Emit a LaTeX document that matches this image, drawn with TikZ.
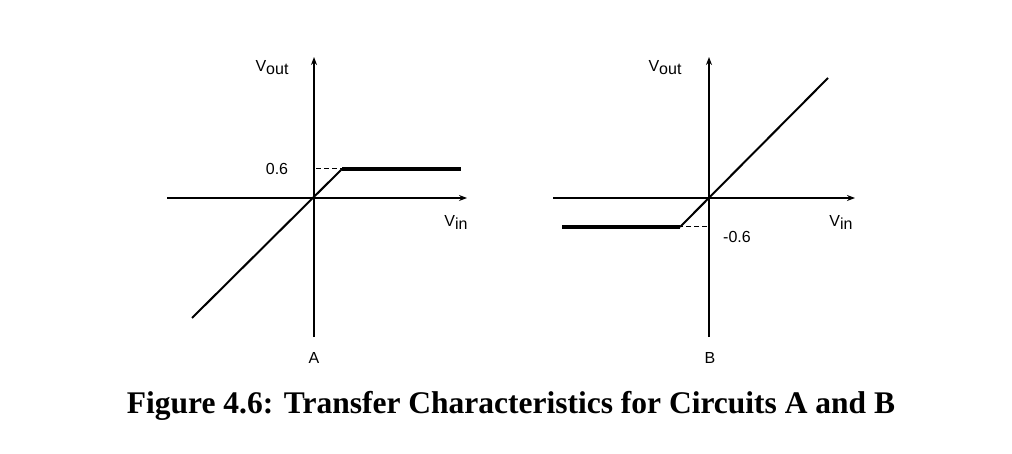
\documentclass[tikz,border=0pt]{standalone}
\usepackage{fontspec}
\setmainfont{Liberation Serif}
\newfontfamily\lblfont{Liberation Sans}
\usetikzlibrary{arrows.meta}
\begin{document}
\begin{tikzpicture}[x=1pt,y=-1pt,
  axis/.style={line width=1.3pt,-{Stealth[length=8pt,width=6pt]}},
  curve/.style={line width=2pt},
  flat/.style={line width=3.6pt},
  guide/.style={line width=1pt,dash pattern=on 5pt off 3pt},
  lbl/.style={font=\lblfont\fontsize{16}{16}\selectfont,inner sep=0pt}]
\useasboundingbox (0,0) rectangle (1012,454);
% Plot A
\coordinate (a0) at (314,337); \coordinate (a1) at (314,57);
\coordinate (ah0) at (167,198); \coordinate (ah1) at (467,198);
\coordinate (as) at (192,318); \coordinate (ak) at (342,169);
\coordinate (ae) at (461,169); \coordinate (ad) at (316,169);
\draw[axis] (a0) -- (a1);
\draw[axis] (ah0) -- (ah1);
\draw[curve] (as) -- (ak);
\draw[flat] (ak) -- (ae);
\draw[guide] (ad) -- (ak);
\node[lbl] (a06) at (277,169) {0.6};
\node[lbl] (avout) at (272,68) {V\raisebox{-3pt}{out}};
\node[lbl] (avin) at (456,222) {V\raisebox{-3pt}{in}};
\node[lbl] (aA) at (314,358) {A};
% Plot B
\coordinate (b0) at (709,337); \coordinate (b1) at (709,57);
\coordinate (bh0) at (553,198); \coordinate (bh1) at (855,198);
\coordinate (bs) at (828,78); \coordinate (bk) at (680,227);
\coordinate (be) at (562,227); \coordinate (bd) at (707,227);
\draw[axis] (b0) -- (b1);
\draw[axis] (bh0) -- (bh1);
\draw[curve] (bs) -- (bk);
\draw[flat] (bk) -- (be);
\draw[guide] (bd) -- (bk);
\node[lbl] (b06) at (737,237) {-0.6};
\node[lbl] (bvout) at (665,68) {V\raisebox{-3pt}{out}};
\node[lbl] (bvin) at (841,222) {V\raisebox{-3pt}{in}};
\node[lbl] (bB) at (710,358) {B};
\node[font=\bfseries\fontsize{31.5}{31.5}\selectfont,inner sep=0pt] (cap) at (511,406) {Figure 4.6: Transfer Characteristics for Circuits A and B};
\end{tikzpicture}
\end{document}
